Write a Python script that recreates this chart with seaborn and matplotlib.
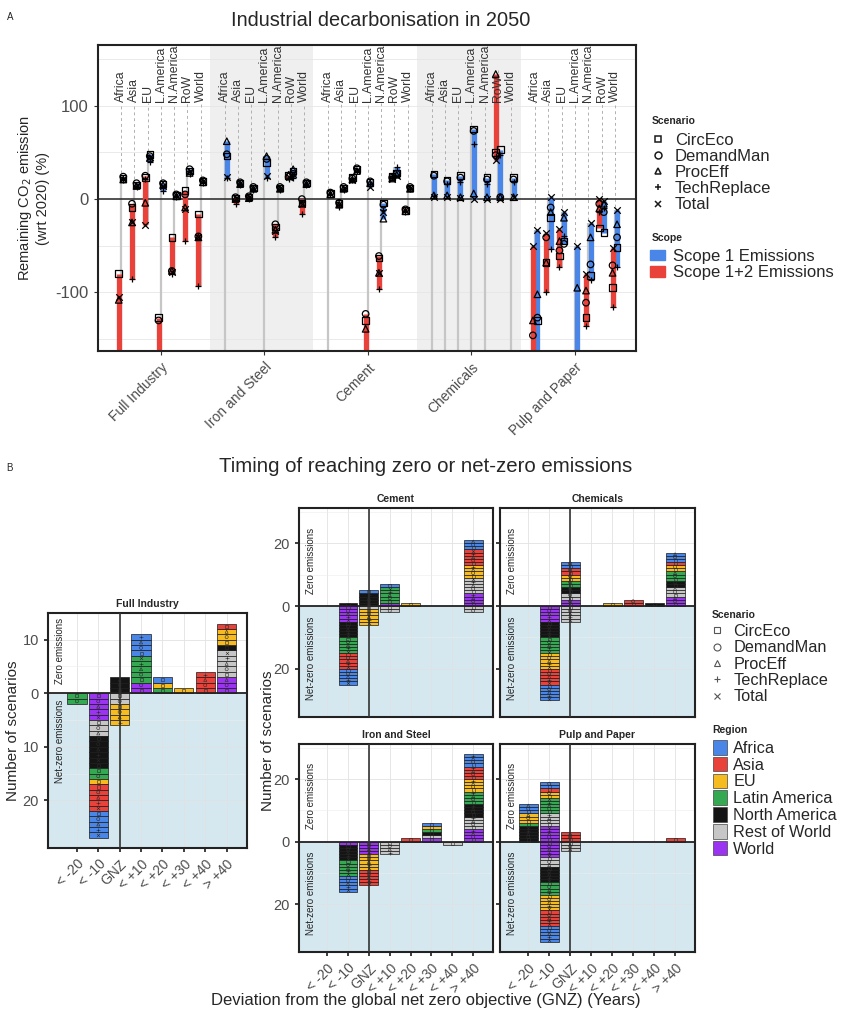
import matplotlib
matplotlib.use("Agg")
import matplotlib.pyplot as plt
from matplotlib.lines import Line2D
from matplotlib.patches import Patch
from matplotlib.ticker import FuncFormatter
import seaborn as sns
import numpy as np
import pandas as pd

# ---------------- data: panel A ----------------
SECTORS = ["Full Industry", "Iron and Steel", "Cement", "Chemicals", "Pulp and Paper"]
REGION_SHORT = ["Africa", "Asia", "EU", "L.America", "N.America", "RoW", "World"]
SCENARIOS = ["CircEco", "DemandMan", "ProcEff", "TechReplace", "Total"]
MARKERS = ["s", "o", "^", "+", "x"]

# remaining emissions in 2050 (% of 2020), rows = regions, cols = scenarios
# values far below the axis (-250) are off-chart
FI_S1 = [[22, 24, 21, 20, 22], [15, 17, 14, 13, 15], [48, 46, 44, 40, 45],
         [16, 17, 15, 9, 14], [4, 5, 3, 2, 4], [30, 32, 28, 27, 30], [19, 20, 18, 17, 19]]
FI_S12 = [[-80, -200, -108, -250, -105], [-9, -5, -25, -86, -25], [23, 25, -4, 22, -28],
          [-127, -130, -200, -250, -180], [-41, -77, -77, -80, -78], [9, 5, -9, -45, -11],
          [-16, -40, -41, -93, -41]]
IS_S1 = [[46, 48, 62, 23, 24], [17, 18, 16, 15, 17], [12, 13, 11, 10, 12],
         [39, 43, 46, 23, 25], [12, 13, 11, 10, 12], [30, 27, 32, 23, 27], [17, 18, 16, 15, 17]]
IS_S12 = [[-250] * 5, [1, 2, 0, -5, 1], [2, 3, 1, 0, 2], [-250] * 5,
          [-30, -27, -33, -41, -34], [25, 24, 26, 21, 24], [-4, 0, -5, -16, -5]]
CE_S1 = [[6, 7, 5, 5, 6], [12, 13, 11, 10, 12], [32, 33, 30, 30, 31], [18, 19, 17, 16, 13],
         [-4, -6, -21, -12, -14], [28, 27, 26, 34, 25], [12, 13, 11, 11, 12]]
CE_S12 = [[-250] * 5, [-5, -4, -6, -8, -5], [23, 22, 21, 20, 20], [-130, -123, -139, -250, -200],
          [-63, -61, -79, -96, -79], [24, 23, 22, 25, 21], [-12, -11, -13, -14, -12]]
CH_S1 = [[27, 25, 4, 3, 2], [20, 19, 4, 16, 2], [25, 23, 2, 18, 1], [75, 73, 6, 59, 0],
         [23, 21, 2, 16, 0], [53, 2, 2, 47, 0], [23, 21, 2, 18, 2]]
CH_S12 = [[-250] * 5, [-250] * 5, [-250] * 5, [-250] * 5, [-250] * 5,
          [50, 47, 134, 46, 42], [-250] * 5]
PP_S1 = [[-130, -127, -102, -250, -33], [-20, -9, -14, -54, 2], [-45, -48, -20, -40, -14],
         [-250, -250, -95, -250, -50], [-82, -70, -41, -87, -26], [-36, -14, -5, -10, -2],
         [-52, -41, -27, -73, -12]]
PP_S12 = [[-200, -146, -130, -250, -50], [-68, -41, -68, -100, -36], [-61, -55, -45, -73, -32],
          [-250] * 5, [-127, -111, -98, -136, -80], [-31, -5, -10, -14, 0],
          [-95, -71, -79, -116, -52]]

S1 = [FI_S1, IS_S1, CE_S1, CH_S1, PP_S1]
S12 = [FI_S12, IS_S12, CE_S12, CH_S12, PP_S12]

# ---------------- data: panel B ----------------
CATS = ["< -20", "< -10", "GNZ", "< +10", "< +20", "< +30", "< +40", "> +40"]
REGIONS = ["Africa", "Asia", "EU", "Latin America", "North America", "Rest of World", "World"]
REGION_COLORS = ["#4a86e8", "#e8423a", "#f7bb22", "#35a852", "#141414", "#c6c6c6", "#9b34f0"]

# number of scenarios per region (rows) and deviation class (cols)
FI_ZERO = [[0, 0, 0, 4, 1, 0, 0, 0], [0, 0, 0, 0, 0, 0, 4, 1], [0, 0, 0, 0, 1, 1, 0, 3],
           [0, 0, 0, 5, 1, 0, 0, 0], [0, 0, 3, 0, 0, 0, 0, 1], [0, 0, 0, 0, 0, 0, 0, 5],
           [0, 0, 0, 2, 0, 0, 0, 3]]
FI_NET = [[0, 5, 0, 0, 0, 0, 0, 0], [0, 5, 0, 0, 0, 0, 0, 0], [0, 1, 4, 0, 0, 0, 0, 0],
          [2, 2, 0, 0, 0, 0, 0, 0], [0, 6, 0, 0, 0, 0, 0, 0], [0, 3, 2, 0, 0, 0, 0, 0],
          [0, 5, 0, 0, 0, 0, 0, 0]]
CE_ZERO = [[0, 0, 1, 1, 0, 0, 0, 3], [0, 0, 0, 0, 0, 0, 0, 5], [0, 0, 0, 0, 1, 0, 0, 4],
           [0, 0, 0, 5, 0, 0, 0, 0], [0, 1, 4, 0, 0, 0, 0, 0], [0, 0, 0, 0, 0, 0, 0, 5],
           [0, 0, 0, 1, 0, 0, 0, 4]]
CE_NET = [[0, 5, 0, 0, 0, 0, 0, 0], [0, 5, 0, 0, 0, 0, 0, 0], [0, 0, 5, 0, 0, 0, 0, 0],
          [0, 5, 0, 0, 0, 0, 0, 0], [0, 5, 0, 0, 0, 0, 0, 0], [0, 0, 1, 2, 0, 0, 0, 2],
          [0, 5, 0, 0, 0, 0, 0, 0]]
CH_ZERO = [[0, 0, 2, 0, 0, 0, 0, 3], [0, 0, 2, 0, 0, 2, 0, 1], [0, 0, 2, 0, 1, 0, 0, 2],
           [0, 0, 2, 0, 0, 0, 0, 3], [0, 0, 2, 0, 0, 0, 1, 2], [0, 0, 2, 0, 0, 0, 0, 3],
           [0, 0, 2, 0, 0, 0, 0, 3]]
CH_NET = [[0, 5, 0, 0, 0, 0, 0, 0], [0, 5, 0, 0, 0, 0, 0, 0], [0, 5, 0, 0, 0, 0, 0, 0],
          [0, 5, 0, 0, 0, 0, 0, 0], [0, 5, 0, 0, 0, 0, 0, 0], [0, 0, 5, 0, 0, 0, 0, 0],
          [0, 5, 0, 0, 0, 0, 0, 0]]
IS_ZERO = [[0, 0, 0, 0, 0, 1, 0, 4], [0, 0, 0, 0, 1, 0, 0, 4], [0, 0, 0, 0, 0, 1, 0, 4],
           [0, 0, 0, 0, 0, 1, 0, 4], [0, 0, 0, 0, 0, 1, 0, 4], [0, 0, 0, 0, 0, 1, 0, 4],
           [0, 0, 0, 0, 0, 1, 0, 4]]
IS_NET = [[0, 5, 0, 0, 0, 0, 0, 0], [0, 0, 5, 0, 0, 0, 0, 0], [0, 0, 5, 0, 0, 0, 0, 0],
          [0, 5, 0, 0, 0, 0, 0, 0], [0, 5, 0, 0, 0, 0, 0, 0], [0, 0, 0, 4, 0, 0, 1, 0],
          [0, 1, 4, 0, 0, 0, 0, 0]]
PP_ZERO = [[3, 2, 0, 0, 0, 0, 0, 0], [0, 1, 3, 0, 0, 0, 0, 1], [3, 2, 0, 0, 0, 0, 0, 0],
           [1, 5, 0, 0, 0, 0, 0, 0], [5, 0, 0, 0, 0, 0, 0, 0], [0, 4, 0, 0, 0, 0, 0, 0],
           [0, 5, 0, 0, 0, 0, 0, 0]]
PP_NET = [[0, 5, 0, 0, 0, 0, 0, 0], [0, 5, 0, 0, 0, 0, 0, 0], [0, 5, 0, 0, 0, 0, 0, 0],
          [0, 4, 0, 0, 0, 0, 0, 0], [0, 5, 0, 0, 0, 0, 0, 0], [0, 3, 3, 0, 0, 0, 0, 0],
          [0, 5, 0, 0, 0, 0, 0, 0]]

SCOPE_COLORS = {"Scope 1 Emissions": "#4a86e8", "Scope 1+2 Emissions": "#e8423a"}
SCOPE_SHIFT = {"Scope 1 Emissions": 0.17, "Scope 1+2 Emissions": -0.17}
STACK_ORDER = [6, 5, 4, 3, 2, 1, 0]   # World at the axis, Africa at the tip
STEP = 7.8
YLO, YHI = -163, 165

sns.set_theme(style="white")
plt.rcParams["font.family"] = ["Liberation Sans", "DejaVu Sans"]


def draw_markers(ax, df, ycol, size, lw, color):
    for sc, m in zip(SCENARIOS, MARKERS):
        sub = df[df["scenario"] == sc]
        kw = dict(color=color, s=size, linewidth=lw, legend=False, zorder=5)
        if m in ("s", "o", "^"):
            kw.update(facecolor="none", edgecolor=color)
        sns.scatterplot(data=sub, x="x", y=ycol, marker=m, ax=ax, **kw)
    ax.set_xlabel("")
    ax.set_ylabel("")


fig = plt.figure(figsize=(8.42, 10.24), dpi=100)

# ================= panel A =================
rows = []
for i, sec in enumerate(SECTORS):
    for j, reg in enumerate(REGION_SHORT):
        for k, sc in enumerate(SCENARIOS):
            rows.append((sec, i, reg, j, sc, "Scope 1 Emissions", S1[i][j][k]))
            rows.append((sec, i, reg, j, sc, "Scope 1+2 Emissions", S12[i][j][k]))
dfa = pd.DataFrame(rows, columns=["sector", "si", "region", "rj", "scenario", "scope", "value"])
dfa["pos"] = dfa["si"] * STEP + dfa["rj"]
dfa["x"] = dfa["pos"] + dfa["scope"].map(SCOPE_SHIFT)

ax = fig.add_axes([0.1164, 0.657, 0.639, 0.299])
for i in (1, 3):
    ax.axvspan(i * STEP - 1.1, i * STEP - 1.1 + STEP, color="#efefef", lw=0, zorder=0)
for y in (-150, -100, -50, 50, 100, 150):
    ax.axhline(y, color="#e6e6e6", lw=0.6, zorder=0.5)
ax.axhline(0, color="#333333", lw=1.2, zorder=1.5)

g = dfa.groupby("pos")["value"]
top = g.max()
low = g.min().clip(lower=YLO)
ax.vlines(top.index, low, top, color="#c6c6c6", lw=1.6, zorder=1)
ax.vlines(top.index, top + 4, 103, color="#b0b0b0", lw=0.7,
          linestyles=(0, (3, 3)), zorder=1)

rng = dfa.groupby(["x", "scope"])["value"].agg(["min", "max"]).reset_index()
for scope, col in SCOPE_COLORS.items():
    sub = rng[rng["scope"] == scope]
    ax.vlines(sub["x"], sub["min"], sub["max"], color=col, lw=3.8, zorder=2)

draw_markers(ax, dfa, "value", 22, 0.9, "black")

for i in range(len(SECTORS)):
    for j, reg in enumerate(REGION_SHORT):
        ax.text(i * STEP + j, 104, reg, rotation=90, ha="center", va="bottom",
                fontsize=8.8, color="#333333")

ax.set_xlim(-1.73, 38.8)
ax.set_ylim(YLO, YHI)
ax.set_xticks([i * STEP + 3 for i in range(len(SECTORS))])
ax.set_xticklabels(SECTORS, rotation=45, ha="right", rotation_mode="anchor",
                   fontsize=10, color="#4d4d4d")
ax.set_yticks([-100, 0, 100])
ax.set_yticklabels(["-100", "0", "100"], fontsize=12, color="#4d4d4d")
ax.tick_params(axis="both", length=3, color="#333333", width=0.8, bottom=True, left=True)
ax.set_ylabel("Remaining CO$_2$ emission\n(wrt 2020) (%)", fontsize=10.5, labelpad=4)
for s in ax.spines.values():
    s.set_color("#222222")
    s.set_linewidth(1.5)

fig.text(0.008, 0.988, "A", fontsize=7, va="top")
fig.text(0.4525, 0.98, "Industrial decarbonisation in 2050", fontsize=14.4, ha="center", va="center")

# legends (titles placed as separate texts so spacing can follow the reference)
leg_kw = dict(loc="upper left", frameon=False, borderaxespad=0, borderpad=0)
title_kw = dict(fontsize=7.5, fontweight="bold", va="center", ha="left")


def px(x, y):
    return x / 842, 1 - y / 1024


sc_handles = [Line2D([], [], ls="", marker=m, mfc="none", mec="k", color="k", ms=5, mew=1.1)
              for m in MARKERS]
fig.text(*px(652, 121), "Scenario", **title_kw)
fig.legend(sc_handles, SCENARIOS, bbox_to_anchor=px(650, 133), fontsize=12,
           handlelength=1.0, handletextpad=0.5, labelspacing=0.065, **leg_kw)
scope_handles = [Patch(color=c) for c in SCOPE_COLORS.values()]
fig.text(*px(652, 238), "Scope", **title_kw)
fig.legend(scope_handles, list(SCOPE_COLORS.keys()), bbox_to_anchor=px(650, 249),
           fontsize=12, handlelength=0.9, handleheight=0.6, handletextpad=0.5,
           labelspacing=0.065, **leg_kw)

# ================= panel B =================
def tiles(zero, net):
    out = []
    for c in range(len(CATS)):
        for sign, counts in ((1, zero), (-1, net)):
            level = 0
            for r in STACK_ORDER:
                for t in range(counts[r][c]):
                    bottom = level if sign > 0 else -level - 1
                    out.append((c, bottom, REGION_COLORS[r], SCENARIOS[t % 5]))
                    level += 1
    df = pd.DataFrame(out, columns=["x", "bottom", "color", "scenario"])
    df["mid"] = df["bottom"] + 0.5
    return df


def draw_panel(ax, zero, net, title, ylim, yticks, show_x, show_y, text_y):
    ax.axhspan(ylim[0], 0, color="#d5e8f0", lw=0, zorder=0.1)
    ax.set_axisbelow(True)
    df = tiles(zero, net)
    ax.bar(df["x"], 1, bottom=df["bottom"], width=0.9, color=df["color"],
           edgecolor="#1a1a1a", linewidth=0.5, zorder=2)
    draw_markers(ax, df, "mid", 5, 0.4, "#2a2a2a")
    ax.axhline(0, color="#222222", lw=1.3, zorder=3)
    ax.axvline(2, color="#333333", lw=1.2, zorder=4)
    ax.set_xlim(-1.35, 7.95)
    ax.set_ylim(*ylim)
    ax.set_xticks(range(len(CATS)))
    ax.set_yticks(yticks)
    step = yticks[1] - yticks[0]
    ax.set_yticks([t + step / 2 for t in yticks[:-1]] + [yticks[-1] + step / 2], minor=True)
    ax.grid(True, which="major", color="#e2e2e2", lw=0.6)
    ax.grid(True, which="minor", axis="y", color="#ececec", lw=0.4)
    ax.yaxis.set_major_formatter(FuncFormatter(lambda v, p: f"{abs(int(v))}"))
    if show_x:
        ax.set_xticklabels(CATS, rotation=45, ha="right", rotation_mode="anchor",
                           fontsize=10, color="#4d4d4d")
    else:
        ax.set_xticklabels([])
    if not show_y:
        ax.set_yticklabels([])
    ax.tick_params(axis="y", labelsize=10.5, labelcolor="#4d4d4d", length=3, left=True, which="major")
    ax.tick_params(axis="x", length=3 if show_x else 0, bottom=True)
    ax.tick_params(which="minor", length=0)
    ax.set_title(title, fontweight="bold", fontsize=7.5, pad=4)
    ax.text(-0.78, text_y[0], "Zero emissions", rotation=90, ha="center", va="center", fontsize=7)
    ax.text(-0.78, text_y[1], "Net-zero emissions", rotation=90, ha="center", va="center", fontsize=7)
    for s in ax.spines.values():
        s.set_color("#222222")
        s.set_linewidth(1.5)


ax_fi = fig.add_axes([0.057, 0.1719, 0.2363, 0.2295])
draw_panel(ax_fi, FI_ZERO, FI_NET, "Full Industry", (-28.9, 14.75), [-20, -10, 0, 10],
           True, True, (8, -9))
ax_fi.set_ylabel("Number of scenarios", fontsize=11, labelpad=2)

GRID_YLIM = (-35.3, 31.2)
GRID_TICKS = [-20, 0, 20]
ax_ce = fig.add_axes([0.3551, 0.2998, 0.2304, 0.2041])
draw_panel(ax_ce, CE_ZERO, CE_NET, "Cement", GRID_YLIM, GRID_TICKS, False, True, (14.5, -16.5))
ax_ch = fig.add_axes([0.5938, 0.2998, 0.2316, 0.2041])
draw_panel(ax_ch, CH_ZERO, CH_NET, "Chemicals", GRID_YLIM, GRID_TICKS, False, False, (14.5, -16.5))
ax_is = fig.add_axes([0.3551, 0.0703, 0.2304, 0.2031])
draw_panel(ax_is, IS_ZERO, IS_NET, "Iron and Steel", GRID_YLIM, GRID_TICKS, True, True, (14.5, -16.5))
ax_pp = fig.add_axes([0.5938, 0.0703, 0.2316, 0.2031])
draw_panel(ax_pp, PP_ZERO, PP_NET, "Pulp and Paper", GRID_YLIM, GRID_TICKS, True, False, (14.5, -16.5))

fig.text(0.318, 0.277, "Number of scenarios", rotation=90, ha="center", va="center", fontsize=11)
fig.text(0.008, 0.548, "B", fontsize=7, va="top")
fig.text(0.506, 0.544, "Timing of reaching zero or net-zero emissions", fontsize=14.7,
         ha="center", va="center")
fig.text(0.506, 0.023, "Deviation from the global net zero objective (GNZ) (Years)",
         fontsize=12, ha="center", va="center")

scb_handles = [Line2D([], [], ls="", marker=m, mfc="none", mec="#555555", color="#555555",
                      ms=5, mew=0.8) for m in MARKERS]
fig.text(*px(712, 615), "Scenario", **title_kw)
fig.legend(scb_handles, SCENARIOS, bbox_to_anchor=px(709, 624), fontsize=11.7,
           handlelength=1.0, handletextpad=0.5, labelspacing=0.08, **leg_kw)
reg_handles = [Patch(facecolor=c, edgecolor="#444444", lw=0.5) for c in REGION_COLORS]
fig.text(*px(712, 730), "Region", **title_kw)
fig.legend(reg_handles, REGIONS, bbox_to_anchor=px(713, 740), fontsize=11.7,
           handlelength=0.85, handleheight=1.0, handletextpad=0.4,
           labelspacing=0.06, **leg_kw)

fig.savefig("out.png", dpi=100)
